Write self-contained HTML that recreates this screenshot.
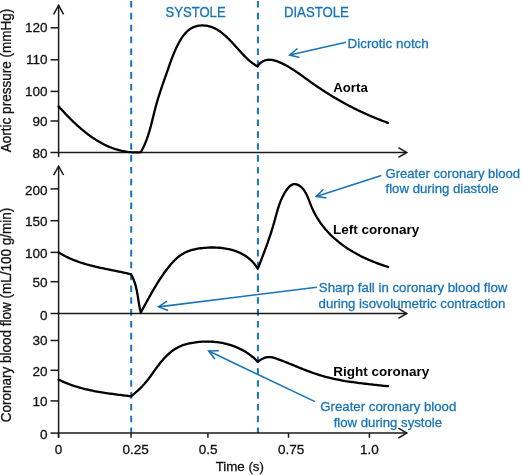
<!DOCTYPE html>
<html><head><meta charset="utf-8"><style>
html,body{margin:0;padding:0;background:#fff;width:522px;height:475px;overflow:hidden}
svg{display:block;will-change:transform}
</style></head><body>
<svg width="522" height="475" viewBox="0 0 522 475"><g stroke="#1874b9" stroke-width="2" stroke-dasharray="6.6 5.25" fill="none"><path d="M131.2,1 L131.2,433"/><path d="M257.9,1 L257.9,433"/></g><g stroke="#1a1a1a" stroke-width="1.5" fill="none" stroke-linecap="butt"><path d="M58.6,157.2 L58.6,5.3" /><path d="M63.6,14.3 L58.6,5.3 L53.6,14.3" fill="none"/><path d="M50.5,27.8 L58.6,27.8"/><path d="M50.5,59.8 L58.6,59.8"/><path d="M50.5,91.4 L58.6,91.4"/><path d="M50.5,121 L58.6,121"/><path d="M50.5,152.5 L58.6,152.5"/><path d="M58.6,437.8 L58.6,166.2" /><path d="M63.6,175.2 L58.6,166.2 L53.6,175.2" fill="none"/><path d="M50.5,188.9 L58.6,188.9"/><path d="M50.5,220.7 L58.6,220.7"/><path d="M50.5,252.4 L58.6,252.4"/><path d="M50.5,281.7 L58.6,281.7"/><path d="M50.5,313.5 L58.6,313.5"/><path d="M50.5,340.5 L58.6,340.5"/><path d="M50.5,370.3 L58.6,370.3"/><path d="M50.5,400.9 L58.6,400.9"/><path d="M50.5,433.1 L58.6,433.1"/><path d="M57.85,152.5 L406.8,152.5"/><path d="M398.4,157.4 L406.8,152.5 L398.4,147.6"/><path d="M57.85,313.5 L406.8,313.5"/><path d="M398.4,318.4 L406.8,313.5 L398.4,308.6"/><path d="M57.85,433.1 L406.8,433.1"/><path d="M398.4,438.0 L406.8,433.1 L398.4,428.2"/><path d="M58.5,433.1 L58.5,437.8"/><path d="M131,433.1 L131,437.8"/><path d="M207.9,433.1 L207.9,437.8"/><path d="M288.5,433.1 L288.5,437.8"/><path d="M369.4,433.1 L369.4,437.8"/></g><g stroke="#000" stroke-width="2.3" fill="none" stroke-linejoin="round" stroke-linecap="round"><path d="M58.60,106.40 L59.68,107.56 L60.69,108.67 L61.70,109.78 L62.73,110.89 L63.76,112.01 L64.80,113.12 L65.85,114.23 L66.92,115.33 L67.99,116.44 L69.07,117.54 L70.15,118.63 L71.25,119.73 L72.36,120.81 L73.48,121.89 L74.61,122.96 L75.74,124.03 L76.89,125.08 L78.04,126.13 L79.21,127.16 L80.38,128.19 L81.57,129.20 L82.76,130.20 L83.97,131.19 L85.18,132.17 L86.40,133.13 L87.64,134.07 L88.88,135.01 L90.13,135.92 L91.40,136.82 L92.67,137.70 L93.95,138.56 L95.25,139.40 L96.55,140.22 L97.86,141.02 L99.18,141.80 L100.52,142.56 L101.86,143.30 L103.22,144.01 L104.58,144.70 L105.95,145.36 L107.34,146.00 L108.73,146.62 L110.14,147.20 L111.55,147.76 L112.98,148.29 L114.41,148.79 L115.86,149.26 L117.32,149.70 L118.79,150.11 L120.26,150.49 L121.75,150.84 L123.25,151.15 L124.76,151.43 L126.28,151.68 L127.81,151.89 L129.36,152.06 L130.91,152.20 L132.47,152.30 L134.05,152.36 L135.63,152.38 L137.23,152.37 L138.83,152.31 L140.30,152.30 L141.36,151.16 L142.09,149.84 L142.78,148.51 L143.44,147.16 L144.08,145.81 L144.69,144.44 L145.27,143.07 L145.84,141.68 L146.38,140.29 L146.89,138.88 L147.39,137.47 L147.88,136.05 L148.34,134.62 L148.79,133.19 L149.23,131.75 L149.65,130.30 L150.06,128.85 L150.46,127.39 L150.85,125.93 L151.23,124.46 L151.61,122.99 L151.98,121.52 L152.35,120.05 L152.71,118.57 L153.08,117.09 L153.44,115.62 L153.80,114.14 L154.17,112.66 L154.54,111.18 L154.92,109.71 L155.30,108.23 L155.69,106.76 L156.09,105.29 L156.50,103.82 L156.92,102.36 L157.35,100.90 L157.78,99.44 L158.23,97.99 L158.68,96.53 L159.13,95.08 L159.60,93.64 L160.06,92.19 L160.54,90.75 L161.02,89.31 L161.50,87.87 L161.99,86.43 L162.47,85.00 L162.97,83.57 L163.46,82.14 L163.96,80.71 L164.46,79.28 L164.96,77.86 L165.45,76.44 L165.95,75.01 L166.45,73.60 L166.95,72.18 L167.45,70.76 L167.94,69.35 L168.43,67.93 L168.93,66.52 L169.42,65.11 L169.92,63.70 L170.42,62.29 L170.93,60.89 L171.45,59.48 L171.98,58.08 L172.52,56.68 L173.07,55.28 L173.63,53.89 L174.21,52.49 L174.81,51.10 L175.43,49.71 L176.07,48.32 L176.73,46.94 L177.41,45.56 L178.12,44.18 L178.86,42.80 L179.62,41.43 L180.41,40.07 L181.24,38.72 L182.10,37.40 L183.00,36.12 L183.93,34.88 L184.91,33.68 L185.93,32.55 L186.99,31.48 L188.10,30.48 L189.26,29.56 L190.48,28.73 L191.74,28.00 L193.05,27.36 L194.41,26.81 L195.80,26.36 L197.23,26.00 L198.68,25.73 L200.15,25.55 L201.64,25.46 L203.14,25.46 L204.64,25.54 L206.13,25.70 L207.62,25.95 L209.10,26.28 L210.56,26.69 L211.99,27.18 L213.39,27.75 L214.77,28.38 L216.12,29.08 L217.45,29.84 L218.75,30.66 L220.02,31.52 L221.27,32.43 L222.50,33.38 L223.70,34.36 L224.87,35.37 L226.02,36.41 L227.15,37.46 L228.25,38.53 L229.34,39.61 L230.40,40.70 L231.46,41.80 L232.49,42.91 L233.52,44.03 L234.53,45.14 L235.54,46.27 L236.55,47.39 L237.55,48.51 L238.55,49.63 L239.55,50.74 L240.56,51.85 L241.57,52.95 L242.60,54.04 L243.63,55.12 L244.67,56.19 L245.74,57.24 L246.82,58.28 L247.91,59.29 L249.04,60.29 L250.18,61.27 L251.35,62.22 L252.55,63.15 L253.78,64.05 L255.05,64.92 L256.35,65.76 L257.70,66.50 L258.57,64.83 L259.75,63.59 L260.97,62.53 L262.23,61.67 L263.52,60.98 L264.84,60.46 L266.18,60.09 L267.55,59.86 L268.93,59.77 L270.33,59.80 L271.74,59.94 L273.16,60.19 L274.59,60.53 L276.02,60.95 L277.44,61.44 L278.87,62.00 L280.28,62.60 L281.68,63.24 L283.07,63.91 L284.45,64.61 L285.81,65.33 L287.16,66.08 L288.49,66.84 L289.82,67.62 L291.13,68.42 L292.43,69.24 L293.73,70.07 L295.01,70.91 L296.29,71.77 L297.56,72.64 L298.82,73.51 L300.08,74.40 L301.34,75.29 L302.59,76.18 L303.84,77.08 L305.08,77.98 L306.33,78.89 L307.58,79.79 L308.82,80.69 L310.07,81.58 L311.32,82.48 L312.57,83.36 L313.83,84.24 L315.09,85.11 L316.35,85.98 L317.61,86.84 L318.88,87.70 L320.15,88.55 L321.42,89.39 L322.70,90.23 L323.98,91.06 L325.26,91.89 L326.55,92.70 L327.84,93.52 L329.13,94.32 L330.42,95.12 L331.72,95.92 L333.02,96.71 L334.33,97.49 L335.64,98.26 L336.95,99.03 L338.26,99.79 L339.58,100.55 L340.90,101.30 L342.23,102.04 L343.56,102.78 L344.89,103.51 L346.23,104.23 L347.56,104.95 L348.91,105.66 L350.25,106.36 L351.60,107.06 L352.96,107.75 L354.31,108.44 L355.67,109.12 L357.04,109.79 L358.41,110.45 L359.78,111.11 L361.15,111.76 L362.53,112.40 L363.92,113.04 L365.30,113.67 L366.69,114.30 L368.09,114.91 L369.49,115.52 L370.89,116.13 L372.30,116.72 L373.71,117.31 L375.12,117.90 L376.54,118.47 L377.96,119.04 L379.39,119.60 L380.82,120.16 L382.26,120.71 L383.70,121.25 L385.14,121.78 L386.59,122.31 L388.00,122.80"/><path d="M58.60,252.40 L59.91,253.22 L61.26,254.02 L62.62,254.79 L63.99,255.54 L65.38,256.27 L66.77,256.96 L68.17,257.64 L69.57,258.29 L70.99,258.91 L72.42,259.52 L73.85,260.10 L75.29,260.66 L76.74,261.20 L78.19,261.73 L79.65,262.23 L81.12,262.72 L82.60,263.19 L84.07,263.65 L85.56,264.09 L87.05,264.51 L88.54,264.93 L90.04,265.33 L91.54,265.72 L93.05,266.09 L94.56,266.46 L96.07,266.82 L97.59,267.17 L99.10,267.51 L100.62,267.84 L102.15,268.17 L103.67,268.49 L105.19,268.81 L106.72,269.12 L108.24,269.43 L109.77,269.74 L111.30,270.04 L112.82,270.35 L114.35,270.65 L115.87,270.96 L117.40,271.27 L118.92,271.58 L120.44,271.89 L121.95,272.21 L123.47,272.53 L124.98,272.86 L126.49,273.19 L127.99,273.53 L129.49,273.88 L131.00,274.30 L131.83,275.69 L132.55,277.12 L133.21,278.58 L133.81,280.06 L134.36,281.55 L134.87,283.06 L135.33,284.59 L135.75,286.13 L136.14,287.68 L136.49,289.23 L136.82,290.80 L137.12,292.38 L137.41,293.96 L137.68,295.55 L137.94,297.13 L138.19,298.73 L138.44,300.32 L138.69,301.91 L138.94,303.49 L139.21,305.08 L139.49,306.66 L139.78,308.23 L140.10,309.79 L140.44,311.34 L140.80,312.90 L141.37,311.46 L142.09,310.14 L142.82,308.82 L143.54,307.50 L144.27,306.18 L144.99,304.86 L145.72,303.53 L146.44,302.20 L147.17,300.88 L147.90,299.55 L148.63,298.22 L149.37,296.90 L150.11,295.57 L150.85,294.25 L151.60,292.93 L152.36,291.61 L153.12,290.29 L153.88,288.97 L154.66,287.66 L155.44,286.35 L156.22,285.05 L157.02,283.75 L157.82,282.45 L158.64,281.16 L159.46,279.87 L160.30,278.59 L161.14,277.32 L162.00,276.05 L162.87,274.79 L163.75,273.53 L164.64,272.28 L165.55,271.04 L166.47,269.81 L167.40,268.59 L168.35,267.38 L169.32,266.18 L170.30,265.00 L171.30,263.83 L172.32,262.70 L173.36,261.58 L174.42,260.50 L175.50,259.44 L176.61,258.43 L177.74,257.45 L178.89,256.51 L180.07,255.62 L181.28,254.77 L182.52,253.97 L183.78,253.23 L185.07,252.55 L186.40,251.92 L187.75,251.35 L189.13,250.84 L190.54,250.37 L191.96,249.96 L193.41,249.59 L194.88,249.26 L196.37,248.96 L197.87,248.70 L199.38,248.47 L200.90,248.26 L202.43,248.08 L203.97,247.92 L205.51,247.78 L207.06,247.67 L208.61,247.58 L210.16,247.52 L211.72,247.49 L213.27,247.49 L214.82,247.51 L216.37,247.56 L217.92,247.64 L219.47,247.76 L221.00,247.90 L222.53,248.07 L224.06,248.28 L225.57,248.52 L227.07,248.79 L228.57,249.10 L230.05,249.44 L231.51,249.82 L232.96,250.23 L234.40,250.69 L235.81,251.18 L237.21,251.70 L238.59,252.27 L239.95,252.88 L241.29,253.52 L242.61,254.21 L243.90,254.94 L245.16,255.71 L246.40,256.53 L247.60,257.39 L248.78,258.30 L249.92,259.26 L251.03,260.27 L252.11,261.33 L253.14,262.44 L254.14,263.60 L255.09,264.81 L256.01,266.09 L256.87,267.42 L257.70,268.70 L258.39,267.35 L258.93,265.92 L259.48,264.50 L260.03,263.08 L260.57,261.66 L261.11,260.24 L261.66,258.83 L262.20,257.41 L262.74,256.00 L263.27,254.58 L263.80,253.17 L264.33,251.75 L264.86,250.34 L265.39,248.92 L265.91,247.51 L266.42,246.09 L266.94,244.67 L267.44,243.26 L267.95,241.83 L268.45,240.41 L268.94,238.99 L269.43,237.56 L269.91,236.13 L270.39,234.70 L270.86,233.27 L271.32,231.83 L271.78,230.39 L272.22,228.94 L272.67,227.49 L273.10,226.04 L273.53,224.58 L273.95,223.12 L274.36,221.66 L274.76,220.19 L275.16,218.71 L275.56,217.24 L275.96,215.76 L276.36,214.29 L276.77,212.81 L277.19,211.34 L277.62,209.87 L278.07,208.41 L278.53,206.95 L279.01,205.50 L279.52,204.05 L280.05,202.61 L280.61,201.19 L281.19,199.77 L281.81,198.37 L282.47,196.97 L283.16,195.60 L283.90,194.23 L284.68,192.89 L285.50,191.55 L286.37,190.24 L287.30,188.97 L288.27,187.76 L289.30,186.66 L290.37,185.70 L291.50,184.93 L292.69,184.38 L293.93,184.08 L295.22,184.08 L296.54,184.35 L297.85,184.86 L299.11,185.53 L300.28,186.32 L301.36,187.21 L302.36,188.19 L303.28,189.26 L304.13,190.40 L304.93,191.62 L305.67,192.89 L306.36,194.23 L307.02,195.60 L307.65,197.02 L308.25,198.46 L308.83,199.93 L309.41,201.42 L309.99,202.91 L310.57,204.40 L311.16,205.88 L311.78,207.35 L312.42,208.80 L313.08,210.22 L313.76,211.63 L314.47,213.02 L315.20,214.39 L315.95,215.75 L316.72,217.08 L317.52,218.39 L318.33,219.69 L319.17,220.97 L320.03,222.23 L320.90,223.47 L321.80,224.69 L322.71,225.90 L323.65,227.08 L324.60,228.25 L325.57,229.41 L326.56,230.54 L327.56,231.66 L328.59,232.76 L329.63,233.84 L330.68,234.91 L331.76,235.96 L332.84,236.99 L333.95,238.01 L335.07,239.01 L336.20,239.99 L337.35,240.96 L338.51,241.91 L339.68,242.85 L340.87,243.77 L342.08,244.67 L343.29,245.56 L344.52,246.43 L345.76,247.29 L347.01,248.13 L348.27,248.96 L349.54,249.77 L350.83,250.57 L352.12,251.35 L353.43,252.12 L354.74,252.87 L356.06,253.61 L357.39,254.34 L358.74,255.05 L360.08,255.75 L361.44,256.43 L362.81,257.10 L364.18,257.75 L365.56,258.39 L366.94,259.02 L368.33,259.64 L369.73,260.24 L371.13,260.83 L372.54,261.40 L373.95,261.97 L375.37,262.52 L376.79,263.06 L378.22,263.58 L379.65,264.09 L381.08,264.60 L382.51,265.08 L383.95,265.56 L385.39,266.03 L386.83,266.48 L388.20,267.10"/><path d="M58.60,379.70 L60.03,380.27 L61.45,380.95 L62.88,381.59 L64.32,382.22 L65.76,382.83 L67.20,383.41 L68.65,383.98 L70.11,384.52 L71.58,385.05 L73.04,385.56 L74.52,386.05 L76.00,386.52 L77.48,386.97 L78.97,387.41 L80.46,387.84 L81.96,388.24 L83.46,388.64 L84.96,389.01 L86.47,389.38 L87.98,389.73 L89.50,390.07 L91.02,390.39 L92.54,390.71 L94.06,391.01 L95.59,391.30 L97.12,391.59 L98.65,391.86 L100.18,392.12 L101.72,392.38 L103.25,392.62 L104.79,392.86 L106.33,393.10 L107.87,393.32 L109.41,393.54 L110.96,393.76 L112.50,393.97 L114.04,394.17 L115.59,394.38 L117.13,394.57 L118.68,394.77 L120.22,394.96 L121.76,395.16 L123.31,395.35 L124.85,395.54 L126.39,395.73 L127.93,395.92 L129.47,396.11 L131.00,396.40 L132.12,395.34 L133.35,394.40 L134.55,393.45 L135.73,392.47 L136.88,391.47 L138.02,390.45 L139.13,389.41 L140.22,388.35 L141.29,387.27 L142.34,386.17 L143.37,385.05 L144.38,383.92 L145.37,382.76 L146.35,381.58 L147.31,380.38 L148.26,379.17 L149.19,377.95 L150.11,376.71 L151.02,375.47 L151.93,374.22 L152.84,372.96 L153.74,371.70 L154.64,370.44 L155.54,369.18 L156.45,367.93 L157.37,366.68 L158.29,365.45 L159.23,364.22 L160.18,363.01 L161.14,361.81 L162.12,360.63 L163.12,359.47 L164.14,358.33 L165.18,357.22 L166.24,356.13 L167.32,355.07 L168.43,354.05 L169.56,353.06 L170.71,352.10 L171.89,351.18 L173.09,350.30 L174.32,349.46 L175.58,348.67 L176.87,347.92 L178.18,347.23 L179.53,346.58 L180.90,345.99 L182.30,345.44 L183.72,344.94 L185.16,344.48 L186.62,344.06 L188.10,343.69 L189.60,343.35 L191.10,343.04 L192.62,342.77 L194.14,342.53 L195.68,342.31 L197.21,342.12 L198.75,341.96 L200.29,341.83 L201.84,341.72 L203.38,341.65 L204.93,341.60 L206.48,341.57 L208.03,341.58 L209.57,341.61 L211.12,341.68 L212.66,341.77 L214.20,341.89 L215.73,342.04 L217.27,342.21 L218.79,342.42 L220.31,342.66 L221.82,342.92 L223.33,343.22 L224.83,343.54 L226.32,343.89 L227.80,344.28 L229.27,344.69 L230.73,345.14 L232.18,345.61 L233.61,346.12 L235.04,346.65 L236.45,347.22 L237.84,347.82 L239.22,348.45 L240.59,349.11 L241.94,349.80 L243.27,350.52 L244.58,351.28 L245.88,352.06 L247.16,352.88 L248.42,353.73 L249.65,354.62 L250.87,355.53 L252.06,356.48 L253.24,357.46 L254.38,358.48 L255.51,359.52 L256.61,360.60 L257.60,361.80 L258.80,361.00 L260.14,360.12 L261.55,359.29 L263.01,358.55 L264.50,357.92 L266.01,357.44 L267.52,357.14 L269.00,357.03 L270.47,357.10 L271.93,357.31 L273.37,357.64 L274.81,358.05 L276.23,358.53 L277.66,359.05 L279.08,359.57 L280.49,360.10 L281.91,360.65 L283.33,361.20 L284.74,361.75 L286.16,362.32 L287.57,362.88 L288.98,363.45 L290.40,364.03 L291.81,364.60 L293.22,365.18 L294.63,365.76 L296.05,366.34 L297.46,366.92 L298.88,367.49 L300.29,368.07 L301.71,368.64 L303.13,369.20 L304.56,369.76 L305.98,370.32 L307.41,370.86 L308.83,371.40 L310.27,371.93 L311.70,372.46 L313.14,372.97 L314.58,373.47 L316.02,373.96 L317.47,374.43 L318.92,374.89 L320.38,375.34 L321.84,375.77 L323.31,376.19 L324.78,376.60 L326.25,376.99 L327.72,377.37 L329.20,377.73 L330.69,378.09 L332.17,378.43 L333.66,378.76 L335.15,379.08 L336.65,379.39 L338.14,379.69 L339.64,379.98 L341.14,380.26 L342.65,380.53 L344.15,380.80 L345.66,381.05 L347.17,381.30 L348.68,381.54 L350.19,381.77 L351.71,381.99 L353.22,382.21 L354.74,382.42 L356.25,382.63 L357.77,382.83 L359.29,383.02 L360.81,383.22 L362.33,383.40 L363.85,383.59 L365.36,383.76 L366.88,383.94 L368.40,384.11 L369.92,384.29 L371.44,384.45 L372.96,384.62 L374.47,384.79 L375.99,384.95 L377.50,385.12 L379.02,385.28 L380.53,385.45 L382.04,385.61 L383.55,385.78 L385.05,385.95 L386.56,386.12 L388.10,386.20"/></g><g stroke="#1874b9" stroke-width="1.6" fill="none"><path d="M346,42.3 L289.7,55"/><path d="M297.5,48.5 L289.7,55.0 L299.5,57.5"/><path d="M381.3,175.4 L316.4,196.4"/><path d="M323.5,189.3 L316.4,196.4 L326.4,198.0"/><path d="M316.8,287.2 L158.6,306.9"/><path d="M167.0,301.2 L158.6,306.9 L168.1,310.4"/><path d="M315,401.6 L208.7,351"/><path d="M218.8,350.7 L208.7,351.0 L214.8,359.0"/></g><g font-family="Liberation Sans, sans-serif" font-size="13.5" fill="#111" stroke="#111" stroke-width="0.3"><text x="47.5" y="31.7" text-anchor="end">120</text><text x="47.5" y="64.2" text-anchor="end">110</text><text x="47.5" y="96.3" text-anchor="end">100</text><text x="47.5" y="125.9" text-anchor="end">90</text><text x="47.5" y="157.7" text-anchor="end">80</text><text x="47.5" y="195.0" text-anchor="end">200</text><text x="47.5" y="226.1" text-anchor="end">150</text><text x="47.5" y="257.6" text-anchor="end">100</text><text x="47.5" y="286.6" text-anchor="end">50</text><text x="47.5" y="319.9" text-anchor="end">0</text><text x="47.5" y="345.4" text-anchor="end">30</text><text x="47.5" y="375.7" text-anchor="end">20</text><text x="47.5" y="406.1" text-anchor="end">10</text><text x="47.5" y="438.8" text-anchor="end">0</text><text x="58.5" y="453.8" text-anchor="middle">0</text><text x="135.7" y="453.8" text-anchor="middle">0.25</text><text x="208.20000000000002" y="453.8" text-anchor="middle">0.5</text><text x="291.1" y="453.8" text-anchor="middle">0.75</text><text x="369.4" y="453.8" text-anchor="middle">1.0</text><text x="239.8" y="471" text-anchor="middle" textLength="48.3" lengthAdjust="spacingAndGlyphs">Time (s)</text><text transform="translate(10.9,80.5) rotate(-90)" font-size="14" text-anchor="middle" textLength="143.3" lengthAdjust="spacingAndGlyphs">Aortic pressure (mmHg)</text><text transform="translate(10.9,315) rotate(-90)" font-size="14" text-anchor="middle" textLength="214.5" lengthAdjust="spacingAndGlyphs">Coronary blood flow (mL/100 g/min)</text></g><g font-family="Liberation Sans, sans-serif" font-size="13.5" font-weight="bold" fill="#000"><text x="333.2" y="92.2" textLength="34.6" lengthAdjust="spacingAndGlyphs">Aorta</text><text x="333" y="234.1">Left coronary</text><text x="333.2" y="375.9">Right coronary</text></g><g font-family="Liberation Sans, sans-serif" font-size="13.5" fill="#1874b9" stroke="#1874b9" stroke-width="0.3"><text x="195.6" y="16.9" font-size="14" text-anchor="middle" textLength="60" lengthAdjust="spacingAndGlyphs">SYSTOLE</text><text x="316.4" y="16.9" font-size="14" text-anchor="middle" textLength="65" lengthAdjust="spacingAndGlyphs">DIASTOLE</text><text x="347.5" y="48.2" textLength="81.3" lengthAdjust="spacingAndGlyphs">Dicrotic notch</text><text x="385.5" y="177.6" textLength="134.6" lengthAdjust="spacingAndGlyphs">Greater coronary blood</text><text x="385.5" y="193.1" textLength="113" lengthAdjust="spacingAndGlyphs">flow during diastole</text><text x="318.8" y="292.2" textLength="188.6" lengthAdjust="spacingAndGlyphs">Sharp fall in coronary blood flow</text><text x="318.5" y="307.7" textLength="186.8" lengthAdjust="spacingAndGlyphs">during isovolumetric contraction</text><text x="388.3" y="410.6" text-anchor="middle" textLength="136" lengthAdjust="spacingAndGlyphs">Greater coronary blood</text><text x="387.9" y="426.6" text-anchor="middle" textLength="108.4" lengthAdjust="spacingAndGlyphs">flow during systole</text></g></svg>
</body></html>
